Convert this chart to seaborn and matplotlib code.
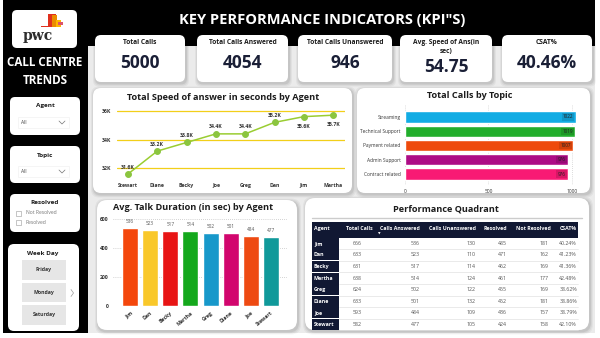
import numpy as np
import pandas as pd
import matplotlib
matplotlib.use("Agg")
import matplotlib.pyplot as plt
from matplotlib.patches import FancyBboxPatch, Rectangle
from matplotlib.ticker import FuncFormatter, FixedLocator
import seaborn as sns

# ---------------- data ----------------
kpi_labels = ["Total Calls", "Total Calls Answered", "Total Calls Unanswered",
              "Avg. Speed of Ans(in\nsec)", "CSAT%"]
kpi_values = ["5000", "4054", "946", "54.75", "40.46%"]

speed_agents = ["Stewart", "Diane", "Becky", "Joe", "Greg", "Dan", "Jim", "Martha"]
speed_seconds = [31600, 33200, 33800, 34400, 34400, 35200, 35600, 35700]
speed_ticks = [32000, 34000, 36000]

topics = ["Streaming", "Technical Support", "Payment related", "Admin Support", "Contract related"]
topic_calls = [1022, 1019, 1007, 976, 976]
topic_colors = ["#12ACE4", "#22AE2C", "#EE4A0C", "#AD0C86", "#F81A74"]
topic_ticks = [0, 500, 1000]

talk_agents = ["Jim", "Dan", "Becky", "Martha", "Greg", "Diane", "Joe", "Stewart"]
talk_seconds = [536, 523, 517, 514, 502, 501, 484, 477]
talk_colors = ["#F4470C", "#F9C82A", "#E81515", "#14A81C", "#1798CA", "#D2066E", "#EE4A12", "#10999A"]
talk_ticks = [0, 200, 400, 600]

table_columns = ["Agent", "Total Calls", "Calls Answered", "Calls Unanswered",
                 "Resolved", "Not Resolved", "CSAT%"]
table_agents = ["Jim", "Dan", "Becky", "Martha", "Greg", "Diane", "Joe", "Stewart"]
table_total = [666, 633, 631, 638, 624, 633, 593, 582]
table_answered = [536, 523, 517, 514, 502, 501, 484, 477]
table_unanswered = [130, 110, 114, 124, 122, 132, 109, 105]
table_resolved = [485, 471, 462, 461, 455, 452, 436, 424]
table_not_resolved = [181, 162, 169, 177, 169, 181, 157, 158]
table_csat = ["40.24%", "41.23%", "41.36%", "42.48%", "38.62%", "38.86%", "38.79%", "42.10%"]

filter_titles = ["Agent", "Topic"]
resolved_options = ["Not Resolved", "Resolved"]
week_days = ["Friday", "Monday", "Saturday"]

# ---------------- figure ----------------
sns.set_theme(style="white")
plt.rcParams["font.family"] = ["Open Sans", "DejaVu Sans"]

W, H = 600, 338
fig = plt.figure(figsize=(W / 100, H / 100), dpi=100)
fig.patch.set_facecolor("white")

bg = fig.add_axes([0, 0, 1, 1])
bg.set_xlim(0, W)
bg.set_ylim(H, 0)
bg.axis("off")

NAVY = "#111833"
TXT = "#1c1c1c"


def px_axes(x0, y0, x1, y1):
    ax = fig.add_axes([x0 / W, 1 - y1 / H, (x1 - x0) / W, (y1 - y0) / H])
    ax.patch.set_alpha(0)
    return ax


def card(x0, y0, x1, y1, r=6, fc="white", shadow=True, ec="none", lw=0):
    if shadow:
        for grow, a in [(3, 0.04), (2, 0.05), (1, 0.07)]:
            bg.add_patch(FancyBboxPatch((x0 + r - grow + 1, y0 + r - grow + 1.5),
                                        (x1 - x0) - 2 * r + 2 * grow, (y1 - y0) - 2 * r + 2 * grow,
                                        boxstyle=f"round,pad={r}", fc="black", ec="none", alpha=a))
    bg.add_patch(FancyBboxPatch((x0 + r, y0 + r), (x1 - x0) - 2 * r, (y1 - y0) - 2 * r,
                                boxstyle=f"round,pad={r}", fc=fc, ec=ec, lw=lw))


# page background
bg.add_patch(Rectangle((88, 45), 507, 288, fc="#ebebeb", ec="none"))
bg.add_patch(Rectangle((3, 0), 85, 333, fc="black", ec="none"))
bg.add_patch(Rectangle((88, 0), 507, 46, fc="black", ec="none"))

# header title
bg.text(322, 20, "KEY PERFORMANCE INDICATORS (KPI\"S)", color="white", fontsize=10.5,
        fontweight="bold", ha="center", va="center")

# KPI cards
kpi_boxes = [(95, 185), (197, 288), (298, 392), (400, 492), (502, 592)]
for (x0, x1), lab, val in zip(kpi_boxes, kpi_labels, kpi_values):
    card(x0, 35, x1, 82, r=6)
    cx = (x0 + x1) / 2
    if "\n" in lab:
        bg.text(cx, 47, lab, fontsize=4.8, fontweight="bold", color=TXT, ha="center",
                va="center", linespacing=1.3)
        bg.text(cx, 67, val, fontsize=12.5, fontweight="bold", color="#1a1f36", ha="center", va="center")
    else:
        bg.text(cx, 43, lab, fontsize=4.8, fontweight="bold", color=TXT, ha="center", va="center")
        bg.text(cx, 63, val, fontsize=12.5, fontweight="bold", color="#1a1f36", ha="center", va="center")

# ---------------- sidebar ----------------
card(12, 10, 77, 48, r=5, shadow=False)
# logo blocks
bg.add_patch(Rectangle((48, 14), 8, 13, fc="#E0301E", ec="none"))
bg.add_patch(Rectangle((52, 15), 5, 12, fc="#EB8C00", ec="none"))
bg.add_patch(Rectangle((56, 20), 5, 7, fc="#FFB600", ec="none"))
bg.add_patch(Rectangle((58, 22), 5, 3, fc="#DB536A", ec="none"))
bg.add_patch(Rectangle((41, 26), 11, 1.4, fc="#E0301E", ec="none"))
bg.text(23, 36, "pwc", fontsize=10, fontweight="bold", color="#2d2d2d",
        family=["DejaVu Serif"], ha="left", va="center")

bg.text(45, 63, "CALL CENTRE", color="white", fontsize=8.4, fontweight="bold", ha="center", va="center")
bg.text(45, 80, "TRENDS", color="white", fontsize=8.4, fontweight="bold", ha="center", va="center")

for (y0, y1), name in zip([(97, 135), (146, 183)], filter_titles):
    card(10, y0, 80, y1, r=5, shadow=False)
    bg.text(45, y0 + 9, name, fontsize=4.6, fontweight="bold", color=TXT, ha="center", va="center")
    bg.add_patch(Rectangle((18, y0 + 20), 51, 11, fc="white", ec="#eeeeee", lw=0.4))
    bg.text(21, y0 + 25.5, "All", fontsize=3.6, color="#444444", ha="left", va="center")
    bg.plot([59, 62, 65], [y0 + 24, y0 + 27, y0 + 24], color="#777777", lw=0.5)

card(10, 194, 80, 232, r=5, shadow=False)
bg.text(45, 202, "Resolved", fontsize=4.6, fontweight="bold", color=TXT, ha="center", va="center")
for i, opt in enumerate(resolved_options):
    yy = 213 + i * 9
    bg.add_patch(Rectangle((16, yy - 2.5), 5, 5, fc="white", ec="#999999", lw=0.4))
    bg.text(26, yy, opt, fontsize=3.6, color="#777777", ha="left", va="center")

card(8, 244, 79, 331, r=6, shadow=False)
bg.text(43, 253, "Week Day", fontsize=4.6, fontweight="bold", color=TXT, ha="center", va="center")
for i, day in enumerate(week_days):
    y0 = 260 + i * 22.5
    bg.add_patch(Rectangle((22, y0), 44, 19.5, fc="#e6e6e6", ec="none"))
    bg.text(44, y0 + 9.75, day, fontsize=3.7, fontweight="bold", color="#333333",
            ha="center", va="center")
bg.plot([71, 73.5, 71], [289.5, 293, 296.5], color="#999999", lw=0.5)

# ---------------- chart cards ----------------
card(93, 88, 352, 193, r=8)
card(357, 88, 590, 193, r=8)
card(97, 200, 297, 330, r=10)
card(305, 198, 589, 330, r=10)

# line chart: total speed of answer
bg.text(223, 97, "Total Speed of answer in seconds by Agent", fontsize=6.6, fontweight="bold",
        color=TXT, ha="center", va="center")
ax1 = px_axes(117, 108, 345, 177)
speed_df = pd.DataFrame({"agent": speed_agents, "seconds": speed_seconds})
sns.lineplot(data=speed_df, x="agent", y="seconds", ax=ax1, color="#9ACD32", lw=1.1,
             marker="o", markersize=4.2, markerfacecolor="#8BC53F", markeredgecolor="#8BC53F",
             sort=False)
ax1.set_ylim(31400, 36200)
ax1.set_xlim(-0.37, 7.4)
ax1.yaxis.set_major_locator(FixedLocator(speed_ticks))
ax1.yaxis.set_major_formatter(FuncFormatter(lambda v, p: f"{v / 1000:.0f}K"))
ax1.grid(axis="y", color="#F2CF1A", lw=0.9)
ax1.set_axisbelow(True)
for s in ax1.spines.values():
    s.set_visible(False)
ax1.set_xlabel("")
ax1.set_ylabel("")
ax1.tick_params(axis="both", length=0, labelsize=3.7, colors="#333333", pad=4)
for lab in ax1.get_xticklabels() + ax1.get_yticklabels():
    lab.set_fontweight("bold")
for i, v in enumerate(speed_seconds):
    below = i >= len(speed_seconds) - 2
    ax1.annotate(f"{v / 1000:.1f}K", (i, v), xytext=(0, -7 if below else 5),
                 textcoords="offset points", ha="center", va="center",
                 fontsize=3.7, fontweight="bold", color="#333333")

# horizontal bars: calls by topic
bg.text(470, 96, "Total Calls by Topic", fontsize=6.6, fontweight="bold", color=TXT,
        ha="center", va="center")
ax2 = px_axes(405, 105, 580, 185)
topic_df = pd.DataFrame({"topic": topics, "calls": topic_calls})
sns.barplot(data=topic_df, y="topic", x="calls", hue="topic", palette=topic_colors,
            legend=False, ax=ax2, width=0.8, saturation=1, orient="h")
ax2.set_xlim(0, 1048)
ax2.set_ylim(4.77, -0.84)
ax2.xaxis.set_major_locator(FixedLocator(topic_ticks))
ax2.grid(axis="x", color="#bbbbbb", lw=0.5, ls=(0, (1, 2)))
ax2.set_axisbelow(True)
for s in ax2.spines.values():
    s.set_visible(False)
ax2.set_xlabel("")
ax2.set_ylabel("")
ax2.tick_params(axis="both", length=0, labelsize=3.5, colors="#333333", pad=3)
for i, v in enumerate(topic_calls):
    ax2.text(v - 14, i, f"{v}", ha="right", va="center", fontsize=3.3, color="#222222",
             bbox=dict(boxstyle="square,pad=0.25", fc="black", ec="none", alpha=0.12))

# vertical bars: avg talk duration
bg.text(193, 207, "Avg. Talk Duration (in sec) by Agent", fontsize=6.6, fontweight="bold",
        color=TXT, ha="center", va="center")
ax3 = px_axes(113, 213, 287, 306)
talk_df = pd.DataFrame({"agent": talk_agents, "seconds": talk_seconds})
sns.barplot(data=talk_df, x="agent", y="seconds", hue="agent", palette=talk_colors,
            legend=False, ax=ax3, width=0.8, saturation=1)
ax3.set_ylim(0, 640)
ax3.set_xlim(-0.85, 7.8)
ax3.yaxis.set_major_locator(FixedLocator(talk_ticks))
ax3.grid(axis="y", color="#aaaaaa", lw=0.5, ls=(0, (1, 2)))
ax3.set_axisbelow(True)
for s in ax3.spines.values():
    s.set_visible(False)
ax3.set_xlabel("")
ax3.set_ylabel("")
ax3.tick_params(axis="both", length=0, labelsize=3.7, colors="#333333", pad=3)
for lab in ax3.get_xticklabels():
    lab.set_rotation(40)
    lab.set_ha("right")
    lab.set_rotation_mode("anchor")
    lab.set_fontweight("bold")
for lab in ax3.get_yticklabels():
    lab.set_fontweight("bold")
for i, v in enumerate(talk_seconds):
    ax3.annotate(f"{v}", (i, v), xytext=(0, 3), textcoords="offset points", ha="center",
                 va="bottom", fontsize=3.4, color="#555555")

# ---------------- performance table ----------------
bg.text(446, 209, "Performance Quadrant", fontsize=6.6, fontweight="bold", color=TXT,
        ha="center", va="center")
bg.plot([312, 582], [218, 218], color="#cccccc", lw=1)
bg.add_patch(Rectangle((312, 222), 266, 15.5, fc=NAVY, ec="none"))
header_x = [314, 373, 420, 476, 507, 551, 577]
for j, (name, hx) in enumerate(zip(table_columns, header_x)):
    bg.text(hx, 228.5, name, fontsize=3.8, fontweight="bold", color="white",
            ha="left" if j == 0 else "right", va="center")
bg.text(379, 233.5, "▼", fontsize=2.4, color="white", ha="center", va="center",
        family=["DejaVu Sans"])
value_x = [362, 420, 476, 507, 549, 577]
row_h = 11.6
for i, agent in enumerate(table_agents):
    yc = 243.3 + i * row_h
    bg.add_patch(Rectangle((312, yc - row_h / 2 + 0.3), 27, row_h - 0.6, fc=NAVY, ec="none"))
    bg.text(314, yc, agent, fontsize=3.8, fontweight="bold", color="white", ha="left", va="center")
    row_vals = [table_total[i], table_answered[i], table_unanswered[i], table_resolved[i],
                table_not_resolved[i], table_csat[i]]
    for vx, val in zip(value_x, row_vals):
        bg.text(vx, yc, f"{val}", fontsize=3.8, color="#555555", ha="right", va="center")
    bg.plot([339, 578], [yc + row_h / 2, yc + row_h / 2], color="#e2e2e2", lw=0.5)

fig.savefig("out.png", dpi=100, facecolor="white")
